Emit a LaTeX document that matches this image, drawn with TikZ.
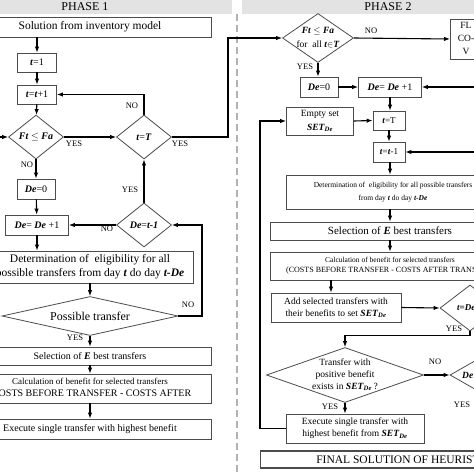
\documentclass[tikz,border=0pt]{standalone}
\usepackage{fontspec}
\setmainfont{Liberation Serif}
\usetikzlibrary{shapes.geometric, arrows.meta, positioning}
\newcommand{\bvar}[1]{\textbf{\textit{#1}}}
\newcommand{\setde}{\bvar{SET}\textsubscript{\bvar{De}}}
\newcommand{\fsz}[2]{\fontsize{#1}{#2}\selectfont}

\begin{document}
\begin{tikzpicture}[x=1pt, y=-1pt]
    % Block styles
    \tikzstyle{box} = [rectangle, draw=black!70, line width=0.8pt, align=center, inner sep=0pt, font=\fsz{10}{12}]
    \tikzstyle{dec} = [diamond, draw=black!70, line width=0.8pt, align=center, inner sep=0pt, aspect=1.3, font=\fsz{10}{12}]
    \tikzstyle{head} = [fill=gray!22, minimum height=14, inner sep=0pt, font=\fsz{12}{12}]
    \tikzstyle{lbl} = [inner sep=0pt, font=\fsz{8.5}{10}]
    \tikzstyle{arr} = [-{Latex[length=6pt,width=4.5pt]}, line width=1.1pt]
    \tikzstyle{wire} = [line width=1.1pt]
    \tikzstyle{phaseline} = [gray!60, line width=1.6pt, dash pattern=on 7pt off 4pt]

    \useasboundingbox (0,0) rectangle (474,474);
    \clip (0,0) rectangle (474,474);

    % Phase headers
    \node[head, minimum width=294] (ph1) at (85,7) {PHASE 1};
    \node[head, minimum width=292] (ph2) at (388,7) {PHASE 2};
    \draw[phaseline] (237,14) -- (237,474);

    % Phase 1 blocks
    \node[box, minimum width=242, minimum height=20, font=\fsz{11.5}{12}] (sol) at (90,27) {Solution from inventory model};
    \node[box, minimum width=39, minimum height=19] (tone) at (37,62.5) {\bvar{t}=1};
    \node[box, minimum width=39, minimum height=19] (tinc) at (37,94.5) {\bvar{t}=\bvar{t}+1};
    \node[dec, minimum width=55, minimum height=44] (ftfa) at (36,137) {\bvar{Ft} $\leq$ \bvar{Fa}};
    \node[dec, minimum width=55, minimum height=44] (tend) at (144,137) {\bvar{t}=\bvar{T}};
    \node[box, minimum width=38, minimum height=20] (dezero) at (36,189) {\bvar{De}=0};
    \node[box, minimum width=63, minimum height=20] (deinc) at (37,225) {\bvar{De}= \bvar{De} +1};
    \node[dec, minimum width=55, minimum height=44] (demax) at (144,225) {\bvar{De}=\bvar{t-1}};
    \node[box, minimum width=206, minimum height=32, font=\fsz{11.5}{14}] (elig) at (90,267) {Determination of\ \ eligibility for all\\possible transfers from day \bvar{t} do day \bvar{t-De}};
    \node[dec, aspect=4.5, minimum width=176, minimum height=39, font=\fsz{12}{12}] (poss) at (90,316) {Possible transfer};
    \node[box, minimum width=242, minimum height=18, font=\fsz{10}{12}] (best) at (90,356) {Selection of \bvar{E} best transfers};
    \node[box, minimum width=242, minimum height=29, font=\fsz{9}{12}] (benefit) at (90,388.5) {Calculation of benefit for selected transfers\\{\fsz{10}{12}(COSTS BEFORE TRANSFER - COSTS AFTER}};
    \node[box, minimum width=242, minimum height=20, font=\fsz{10}{12}] (exec) at (90,429) {Execute single transfer with highest benefit};

    % Phase 1 connections
    \coordinate (fromleft) at (-12,137);
    \draw[arr] (fromleft) -- (ftfa.west);
    \draw[arr] (sol.south -| tone) -- (tone.north);
    \draw[arr] (tone) -- (tinc);
    \draw[arr] (tinc) -- (ftfa);
    \draw[arr] (ftfa.east) -- (tend.west);
    \draw[arr] (ftfa.south) -- (dezero.north);
    \draw[arr] (dezero) -- (deinc);
    \draw[arr] (deinc.south) -- (deinc.south |- elig.north);
    \draw[arr] (elig) -- (poss);
    \draw[arr] (poss) -- (best);
    \draw[arr] (best) -- (benefit);
    \draw[arr] (benefit) -- (exec);
    \draw[arr] (poss.east) -- (202,316) |- (demax.east);
    \draw[arr] (demax.west) -- (deinc.east);
    \draw[arr] (demax.north) -- (tend.south);
    \draw[arr] (tend.north) |- (tinc.east);
    \node[lbl] (no1) at (132,106) {NO};
    \node[lbl] (yes1) at (74,144) {YES};
    \node[lbl] (yes2) at (180,144) {YES};
    \node[lbl] (no2) at (27,165) {NO};
    \node[lbl] (yes3) at (130,190) {YES};
    \node[lbl] (no3) at (107,229) {NO};
    \node[lbl] (no4) at (188,305) {NO};
    \node[lbl] (yes4) at (75,338) {YES};

    % Phase 2 blocks
    \node[dec, minimum width=71, minimum height=49] (ftall) at (318,38) {};
    \node[inner sep=0pt, align=center, font=\fsz{9.5}{14}] (ftalltxt) at (ftall) {\bvar{Ft} $\leq$ \bvar{Fa}\\for\ \ all \bvar{t}$\in$\bvar{T}};
    \node[box, minimum width=60, minimum height=40, anchor=west] (viol) at (450,39) {};
    \node[inner sep=0pt, align=center, font=\fsz{9.5}{13}] (violtxt) at (466,38) {FL\\CO-\\V};
    \node[box, minimum width=38, minimum height=20] (dezeroR) at (319,87) {\bvar{De}=0};
    \node[box, minimum width=63, minimum height=20] (deincR) at (390,87) {\bvar{De}= \bvar{De} +1};
    \node[box, minimum width=67, minimum height=28, font=\fsz{9.5}{14}] (empty) at (320,121) {Empty set\\\setde};
    \node[box, minimum width=32, minimum height=19, font=\fsz{9}{10}] (tlast) at (389,120.5) {\bvar{t}=T};
    \node[box, minimum width=32, minimum height=20, font=\fsz{9}{10}] (tdec) at (389,152) {\bvar{t}=\bvar{t}-1};
    \node[box, minimum width=214, minimum height=34, font=\fsz{7.5}{13}] (eligR) at (393,192) {Determination of\ \ eligibility for all possible transfers\\from day \bvar{t} do day \bvar{t-De}};
    \node[box, minimum width=240, minimum height=18, font=\fsz{11}{12}] (bestR) at (390,231) {Selection of \bvar{E} best transfers};
    \node[box, minimum width=240, minimum height=28, font=\fsz{7.5}{10}] (benefitR) at (390,266) {Calculation of benefit for selected transfers\\{\fsz{8}{10}(COSTS BEFORE TRANSFER - COSTS AFTER TRANSFER)}};
    \node[box, minimum width=130, minimum height=29, font=\fsz{9.5}{12}] (addset) at (336,307.5) {Add selected transfers with\\their benefits to set \setde};
    \node[dec, minimum width=60, minimum height=46, font=\fsz{9}{10}] (tmin) at (470,308) {\bvar{t=De-1}};
    \node[dec, minimum width=157, minimum height=55] (posben) at (345,375) {};
    \node[inner sep=0pt, align=center, font=\fsz{9.5}{12}] (posbentxt) at (posben) {Transfer with\\positive benefit\\exists in \setde\,?};
    \node[dec, minimum width=70, minimum height=40] (demaxR) at (485,375) {};
    \node[inner sep=0pt, anchor=west, font=\fsz{9.5}{10}] (demaxRtxt) at (462,375) {\bvar{De}};
    \node[box, minimum width=138, minimum height=29, font=\fsz{9.5}{12}] (execR) at (355,428.5) {Execute single transfer with\\highest benefit from \setde};
    \node[box, line width=1.4pt, minimum width=286, minimum height=17, anchor=west, font=\fsz{11.5}{12}] (final) at (260,459.5) {FINAL SOLUTION OF HEURISTIC};

    % Phase 2 connections
    \draw[arr] (tend.east) -- (228,137) |- (ftall.west);
    \draw[arr] (ftall.east) -- (viol.west);
    \draw[arr] (ftall.south) -- (ftall.south |- dezeroR.north);
    \draw[arr] (dezeroR) -- (deincR);
    \coordinate (rightin1) at (480,87);
    \draw[arr] (rightin1) -- (deincR.east);
    \draw[arr] (deincR.south) -- (deincR.south |- tlast.north);
    \draw[arr] (empty.east) -- (tlast.west);
    \draw[arr] (tlast) -- (tdec);
    \coordinate (rightin2) at (480,152);
    \draw[arr] (rightin2) -- (tdec.east);
    \draw[arr] (tdec.south -| deincR) -- (eligR.north -| deincR);
    \draw[arr] (eligR.south -| deincR) -- (bestR.north -| deincR);
    \draw[arr] (bestR) -- (benefitR);
    \draw[arr] ([xshift=-5pt]benefitR.south -| addset) -- ([xshift=-5pt]addset.north);
    \draw[arr] (addset.east) -- (tmin.west);
    \draw[arr] (tmin.south) -- ++(0,4) -| (posben.north);
    \draw[arr] (posben.east) -- (demaxR.west);
    \draw[arr] (posben.south) -- (posben.south |- execR.north);
    \draw[wire] (execR.west) -- (260,428.5);
    \draw[arr] (260,428.5) |- (empty.west);
    \node[lbl] (no5) at (371,31) {NO};
    \node[lbl] (yes5) at (305,67) {YES};
    \node[lbl] (yes6) at (454,329) {YES};
    \node[lbl] (no6) at (435,362) {NO};
    \node[lbl] (yes7) at (330,407) {YES};
    \node[lbl] (yes8) at (462,405) {YES};
\end{tikzpicture}
\end{document}
